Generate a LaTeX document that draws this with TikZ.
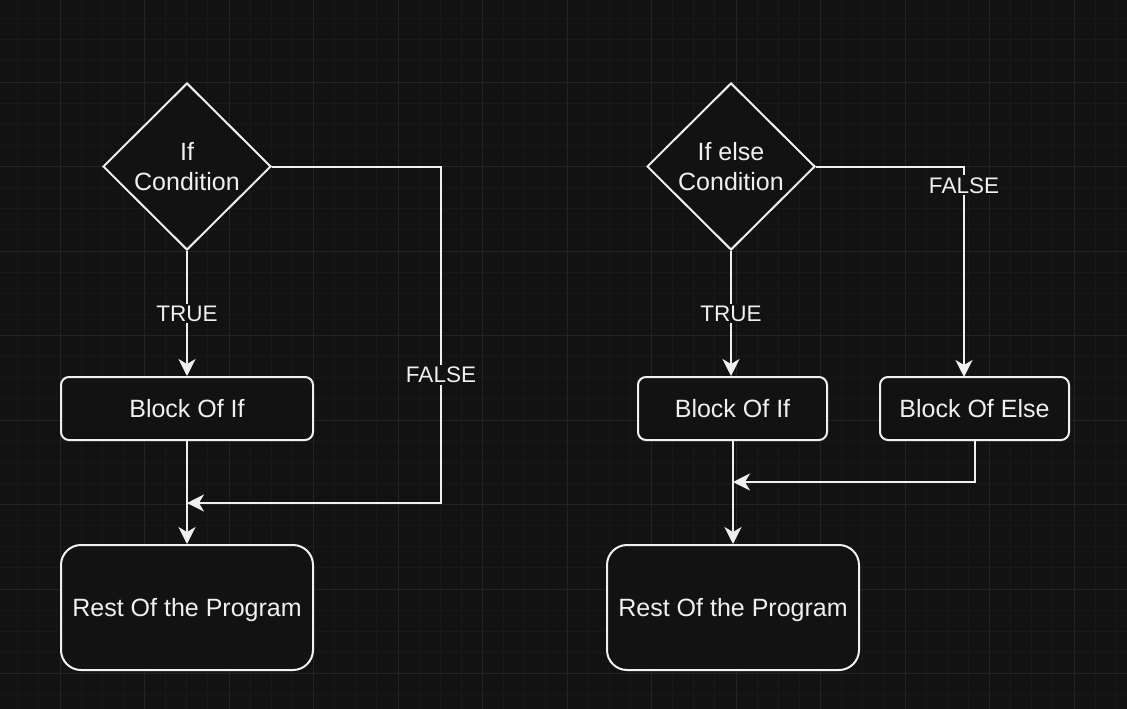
\documentclass[tikz,border=0pt]{standalone}
\usepackage{fontspec}
\setmainfont{Liberation Sans}
\usetikzlibrary{shapes.geometric,arrows.meta}
\definecolor{bg}{HTML}{121212}
\definecolor{gridmin}{HTML}{181818}
\definecolor{gridmaj}{HTML}{232323}
\definecolor{fg}{HTML}{F0F0F0}
\tikzset{
  box/.style={draw=fg, line width=2pt, fill=bg, text=fg, font=\fontsize{25}{30}\selectfont, inner sep=0pt, text height=18pt, text depth=0pt},
  blockbox/.style={box, rounded corners=8pt, minimum width=252pt, minimum height=63pt},
  smallblock/.style={box, rounded corners=8pt, minimum width=189pt, minimum height=63pt},
  restbox/.style={box, rounded corners=20pt, minimum width=252pt, minimum height=125pt},
  decision/.style={draw=fg, line width=2pt, fill=bg, diamond, minimum width=168pt, minimum height=167pt, inner sep=0pt},
  dtext/.style={text=fg, font=\fontsize{25}{30}\selectfont, align=center},
  conn/.style={draw=fg, line width=2pt, -{Stealth[length=17pt, width=17pt, inset=5pt]}},
  plain/.style={draw=fg, line width=2pt},
  elabel/.style={fill=bg, text=fg, font=\fontsize{22.5}{27}\selectfont, inner sep=2pt},
}
\begin{document}
\begin{tikzpicture}[x=1pt, y=-1pt]
\useasboundingbox (0,0) rectangle (1127,709);
\fill[bg] (0,0) rectangle (1127,709);
\foreach \i in {0,...,54} {
  \draw[gridmin, line width=0.8pt] ({-3.375+21.125*\i},0) -- ({-3.375+21.125*\i},709);
}
\foreach \i in {0,...,34} {
  \draw[gridmin, line width=0.8pt] (0,{-2.5+21.125*\i}) -- (1127,{-2.5+21.125*\i});
}
\foreach \i in {0,...,13} {
  \draw[gridmaj, line width=1pt] ({-24.5+84.5*\i},0) -- ({-24.5+84.5*\i},709);
}
\foreach \i in {0,...,8} {
  \draw[gridmaj, line width=1pt] (0,{-2.5+84.5*\i}) -- (1127,{-2.5+84.5*\i});
}

% Left flowchart
\node[decision, label={[dtext]center:If\\Condition}] (d1) at (187,166.5) {};
\node[blockbox] (b1) at (187,408.5) {Block Of If};
\node[restbox] (r1) at (187,607.5) {Rest Of the Program};
\coordinate (f1a) at (441,166.5);
\coordinate (f1b) at (441,503);
\coordinate (j1) at (187,503);

\draw[conn] (d1.south) -- node[elabel] {TRUE} (b1.north);
\draw[conn] (b1.south) -- (r1.north);
\draw[conn] (d1.east) -- (f1a) -- node[elabel, pos=0.62] {FALSE} (f1b) -- (j1);

% Right flowchart
\node[decision, label={[dtext]center:If else\\Condition}] (d2) at (731,166.5) {};
\node[smallblock] (b2) at (732.5,408.5) {Block Of If};
\node[smallblock] (e2) at (974.5,408.5) {Block Of Else};
\node[restbox] (r2) at (733,607.5) {Rest Of the Program};
\coordinate (f2a) at (964,166.5);
\coordinate (f2b) at (964,377);
\coordinate (g2a) at (974.5,482);
\coordinate (j2) at (733,482);

\draw[conn] (d2.south) -- node[elabel] {TRUE} (d2.south |- b2.north);
\draw[conn] (b2.south -| r2.north) -- (r2.north);
\draw[conn] (d2.east) -- (f2a) -- node[elabel, pos=0.09] {FALSE} (f2b);
\draw[conn] (e2.south) -- (g2a) -- (j2);
\end{tikzpicture}
\end{document}
